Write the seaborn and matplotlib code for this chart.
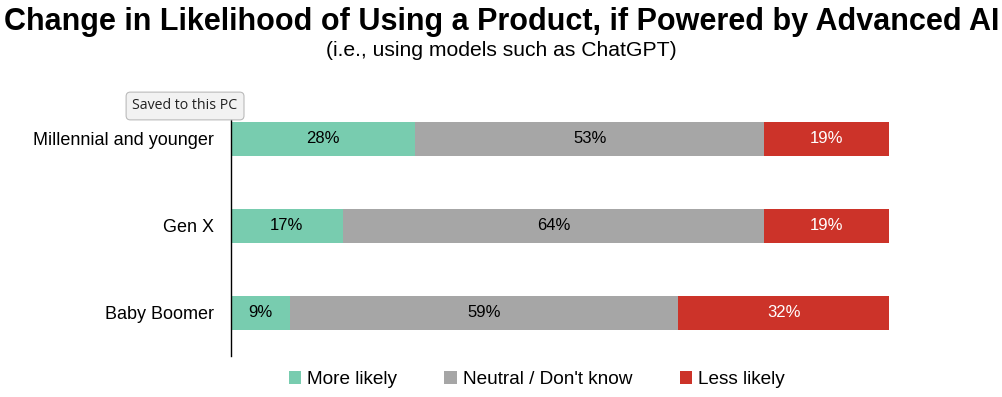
import numpy as np
import pandas as pd
import matplotlib.pyplot as plt
import seaborn as sns
from matplotlib.patches import Patch

# data
groups = ["Millennial and younger", "Gen X", "Baby Boomer"]
more_likely = [28, 17, 9]
neutral = [53, 64, 59]
less_likely = [19, 19, 32]
series_names = ["More likely", "Neutral / Don't know", "Less likely"]
colors = ["#78CCAF", "#A6A6A6", "#CC3329"]
label_colors = ["black", "black", "white"]

sns.set_theme(style="white")
plt.rcParams['font.family'] = ['Liberation Sans', 'DejaVu Sans']
plt.rcParams['text.color'] = 'black'

df = pd.DataFrame({"group": groups, series_names[0]: more_likely,
                   series_names[1]: neutral, series_names[2]: less_likely})
vals = df[series_names].to_numpy()
cum = vals.cumsum(axis=1)

fig = plt.figure(figsize=(10.03, 3.97), dpi=100)
ax = fig.add_axes([0.2303, 0.103, 0.656, 0.657])

# stacked bars: draw cumulative totals from the back to the front
for i in reversed(range(len(series_names))):
    sns.barplot(x=cum[:, i], y=df["group"], color=colors[i], orient="h",
                width=0.39, saturation=1, ax=ax, edgecolor="none")

# segment labels
for i in range(len(series_names)):
    for j in range(len(groups)):
        ax.text(cum[j, i] - vals[j, i] / 2, j, f"{vals[j, i]}%",
                ha="center", va="center", fontsize=12, color=label_colors[i])

ax.set_xlim(0, 100)
ax.set_ylim(2.5, -0.5)
ax.set_xlabel("")
ax.set_ylabel("")
ax.set_xticks([])
ax.tick_params(axis="y", length=0, pad=12, labelsize=13, labelcolor="black")
sns.despine(ax=ax, bottom=True)
ax.spines["left"].set_color("black")
ax.spines["left"].set_linewidth(1.0)

fig.text(0.5, 0.945, "Change in Likelihood of Using a Product, if Powered by Advanced AI",
         ha="center", va="center", fontsize=22, fontweight="bold", color="black")
fig.text(0.5, 0.873, "(i.e., using models such as ChatGPT)",
         ha="center", va="center", fontsize=15.2, color="black")

handles = [Patch(facecolor=c, edgecolor="none") for c in colors]
fig.legend(handles, series_names, loc="center", bbox_to_anchor=(0.535, 0.043),
           ncol=3, frameon=False, fontsize=13.7, handlelength=0.65,
           handleheight=0.65, handletextpad=0.3, columnspacing=2.5,
           labelcolor="black")

# tooltip overlay visible in the screenshot
fig.text(0.1845, 0.733, "Saved to this PC", ha="center", va="center",
         fontsize=10.2, family=["Open Sans", "DejaVu Sans"], color="#222222",
         bbox=dict(boxstyle="round,pad=0.45,rounding_size=0.3",
                   facecolor="#F2F2F2", edgecolor="#BBBBBB", linewidth=0.8))

fig.savefig("out.png", dpi=100)
